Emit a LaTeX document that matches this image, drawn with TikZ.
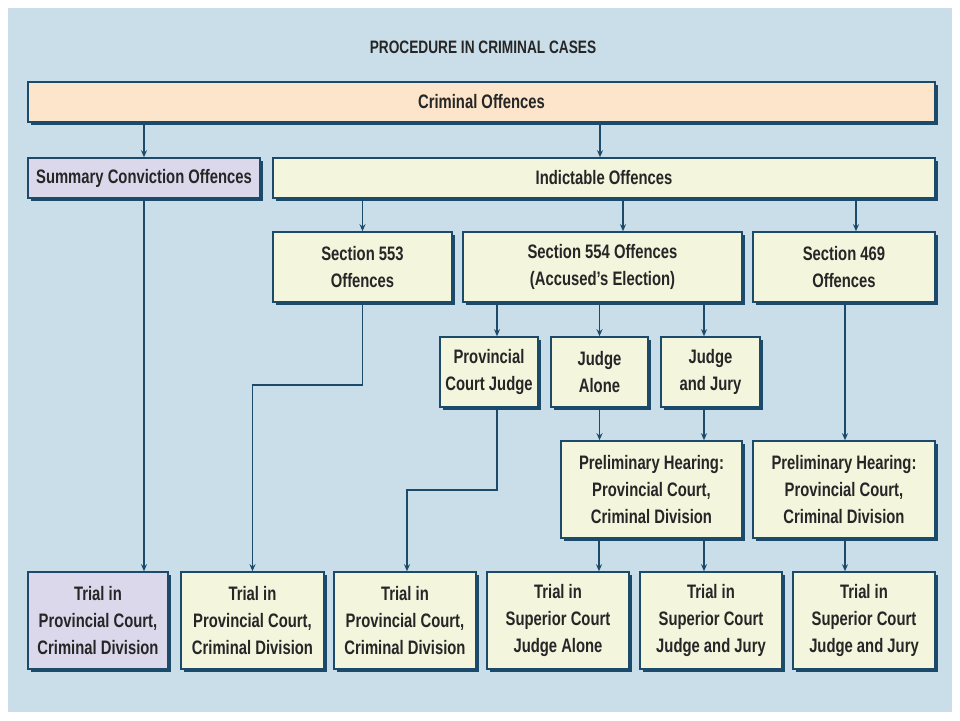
\documentclass[tikz,border=0pt]{standalone}
\usepackage{fontspec}
\setmainfont{Liberation Sans}[FakeStretch=0.76]
\usetikzlibrary{shadows,arrows.meta}
\definecolor{bgc}{HTML}{C9DEE8}
\definecolor{bord}{HTML}{1B4A6B}
\definecolor{boxc}{HTML}{F3F5DD}
\definecolor{peach}{HTML}{FCE5CB}
\definecolor{lav}{HTML}{DCD8EC}
\tikzset{
 bx/.style={draw=bord,line width=1.6pt,fill=boxc,align=center,inner sep=0pt,
   font=\fontsize{19.5}{27}\selectfont\bfseries,text=black!85,
   drop shadow={shadow xshift=3pt,shadow yshift=-3pt,fill=bord,opacity=1}},
 arr/.style={draw=bord,line width=1.5pt,-{Stealth[length=7pt,width=6pt]}},
 ln/.style={draw=bord,line width=1.5pt}
}
\newcommand{\bxnode}[7]{\node[bx,#6,minimum width={(#3-#1)*1pt},minimum height={(#4-#2)*1pt}] (#5) at ({(#1+#3)/2},{(#2+#4)/2}) {#7};}
\begin{document}
\begin{tikzpicture}[x=1pt,y=-1pt]
\useasboundingbox (0,0) rectangle (960,720);
\fill[white] (0,0) rectangle (960,720);
\fill[bgc] (8,8) rectangle (952,712);
\node[font=\fontsize{18}{20}\selectfont\bfseries,text=black!85] (title) at (483,47) {PROCEDURE IN CRIMINAL CASES};
\bxnode{28}{82}{935}{122}{crim}{fill=peach}{Criminal Offences}
\bxnode{28}{158}{260}{198}{sum}{fill=lav}{Summary Conviction Offences}
\bxnode{273}{158}{935}{198}{ind}{}{Indictable Offences}
\bxnode{273}{232}{452}{302}{sa}{}{Section 553\\Offences}
\bxnode{463}{232}{742}{302}{sb}{}{Section 554 Offences\\(Accused's Election)}
\bxnode{753}{232}{935}{302}{sc}{}{Section 469\\Offences}
\bxnode{440}{337}{538}{407}{pcj}{}{Provincial\\Court Judge}
\bxnode{551}{337}{648}{407}{ja}{}{Judge\\Alone}
\bxnode{661}{337}{760}{407}{jj}{}{Judge\\and Jury}
\bxnode{561}{441}{742}{538}{pa}{}{Preliminary Hearing:\\Provincial Court,\\Criminal Division}
\bxnode{753}{441}{935}{538}{pb}{}{Preliminary Hearing:\\Provincial Court,\\Criminal Division}
\bxnode{28}{572}{168}{669}{ta}{fill=lav}{Trial in\\Provincial Court,\\Criminal Division}
\bxnode{181}{572}{324}{669}{tb}{}{Trial in\\Provincial Court,\\Criminal Division}
\bxnode{334}{572}{476}{669}{tc}{}{Trial in\\Provincial Court,\\Criminal Division}
\bxnode{487}{572}{629}{669}{td}{}{Trial in\\Superior Court\\Judge Alone}
\bxnode{640}{572}{782}{669}{te}{}{Trial in\\Superior Court\\Judge and Jury}
\bxnode{793}{572}{935}{669}{tf}{}{Trial in\\Superior Court\\Judge and Jury}
\draw[arr] (crim.south -| sum.north) -- (sum.north);
\draw[arr] (crim.south -| 600,0) -- (ind.north -| 600,0);
\draw[arr] (ind.south -| sa.north) -- (sa.north);
\draw[arr] (ind.south -| 623,0) -- (sb.north -| 623,0);
\draw[arr] (ind.south -| 856,0) -- (sc.north -| 856,0);
\draw[arr] (sum.south) -- (ta.north -| sum.south);
\draw[arr] (sa.south) -- (sa.south |- 0,385) -| (tb.north);
\draw[arr] (sb.south -| 497,0) -- (pcj.north -| 497,0);
\draw[arr] (sb.south -| ja.north) -- (ja.north);
\draw[arr] (sb.south -| 704,0) -- (jj.north -| 704,0);
\draw[arr] (pcj.south -| 497,0) -- (497,490) -| (tc.north -| 407,0);
\draw[arr] (ja.south) -- (pa.north -| ja.south);
\draw[arr] (jj.south -| 704,0) -- (pa.north -| 704,0);
\draw[arr] (pa.south -| 599,0) -- (td.north -| 599,0);
\draw[arr] (pa.south -| 704,0) -- (te.north -| 704,0);
\draw[arr] (sc.south -| 845,0) -- (pb.north -| 845,0);
\draw[arr] (pb.south -| 845,0) -- (tf.north -| 845,0);
\end{tikzpicture}
\end{document}
